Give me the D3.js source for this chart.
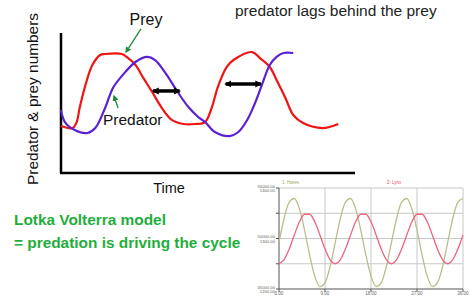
<!DOCTYPE html>
<html>
<head>
<meta charset="utf-8">
<script src="https://cdn.jsdelivr.net/npm/d3@7"></script>
<style>
  html, body { margin: 0; padding: 0; background: #fff; }
  svg { display: block; }
  text { font-family: "Liberation Sans", Arial, sans-serif; }
</style>
</head>
<body>
<div id="vis"></div>
<script>
// sketch chart: time in arbitrary units, numbers 0-100
const preyTime = [0, 1.2, 1.6, 1.9, 2.5, 3.2, 4.0, 4.5, 6.2, 6.7, 7.6, 8.4, 9.3, 10.3, 11.3, 12.5, 13.7, 14.7, 15.4, 16.0, 16.9, 17.6, 19.5, 20.3, 21.3, 22.1, 22.9, 23.7, 24.7, 26.7, 28.3];
const preyNum  = [33.6, 32.1, 36.4, 46.4, 62.9, 77.1, 84.3, 85.0, 85.0, 82.9, 77.1, 67.9, 57.9, 46.4, 37.9, 35.0, 35.0, 36.4, 47.1, 61.4, 75.7, 80.7, 86.4, 82.1, 75.7, 65.0, 53.6, 41.4, 35.7, 32.1, 35.0];
const predTime = [0, 0.4, 1.4, 2.7, 3.5, 4.5, 5.3, 6.3, 7.6, 8.8, 9.6, 10.6, 11.9, 13.0, 14.0, 14.7, 15.7, 17.2, 18.1, 19.0, 19.8, 20.5, 21.3, 22.0, 22.7, 23.7];
const predNum  = [45.0, 36.4, 30.7, 28.6, 32.1, 46.4, 60.7, 70.0, 79.3, 82.9, 80.7, 72.1, 57.9, 47.1, 40.0, 36.4, 29.3, 26.4, 29.3, 37.9, 50.0, 62.9, 77.1, 82.9, 85.7, 85.7];
// lag arrows [from, to, level]
const lagArrows = [[9.4, 12.1, 58.6], [16.8, 20.4, 63.6]];

// inset model output (Hares / Lynx)
const modelTime = d3.range(0, 37);
const hares = [49600, 51980, 53600, 53960, 52930, 50840, 48360, 46270, 45240, 45600, 47220,
               49600, 51970, 53600, 53960, 52930, 50840, 48360, 46270, 45240, 45600, 47220,
               49600, 51980, 53600, 53960, 52930, 50840, 48360, 46270, 45240, 45600, 47220,
               49600, 51980, 53600, 53960];
const lynx = [1250, 1258, 1279, 1307, 1333, 1348, 1348, 1333, 1307, 1279, 1258,
              1250, 1258, 1279, 1307, 1333, 1348, 1348, 1333, 1307, 1279, 1258,
              1250, 1258, 1279, 1307, 1333, 1348, 1348, 1333, 1307, 1279, 1258,
              1250, 1258, 1279, 1307];
const timeTicks = [0, 9, 18, 27, 36];
const hareTicks = [45000, 47500, 50000, 52500, 55000];
const hareLabels = {45000: "45000.00", 50000: "50000.00", 55000: "55000.00"};
const lynxLabels = {45000: "1200.00", 50000: "1300.00", 55000: "1400.00"};

const width = 474, height = 305;

const svg = d3.select("#vis").append("svg")
  .attr("width", width)
  .attr("height", height);

const defs = svg.append("defs");
function marker(id, color, w, h) {
  defs.append("marker")
    .attr("id", id)
    .attr("viewBox", "0 0 10 10")
    .attr("refX", 8).attr("refY", 5)
    .attr("markerUnits", "userSpaceOnUse")
    .attr("markerWidth", w).attr("markerHeight", h)
    .attr("orient", "auto-start-reverse")
    .append("path")
    .attr("d", "M0,0 L10,5 L0,10 z")
    .attr("fill", color);
}
marker("blk", "#000", 7, 9);
marker("grn", "#1e8a35", 6, 6);

//SCALES (sketch)
const x = d3.scaleLinear().domain([0, 30]).range([61, 355]);
const y = d3.scaleLinear().domain([0, 100]).range([173, 33]);

const line = d3.line()
  .x(d => x(d[0]))
  .y(d => y(d[1]))
  .curve(d3.curveCatmullRom.alpha(0.5));

// axes
svg.append("line")
  .attr("x1", x(0)).attr("x2", x(0))
  .attr("y1", y(100)).attr("y2", y(0))
  .attr("stroke", "#000").attr("stroke-width", 2.5);
svg.append("line")
  .attr("x1", x(0) - 1).attr("x2", x(30))
  .attr("y1", y(0)).attr("y2", y(0))
  .attr("stroke", "#000").attr("stroke-width", 2.5);

svg.append("path")
  .datum(preyTime.map((t, i) => [t, preyNum[i]]))
  .attr("d", line)
  .attr("fill", "none")
  .attr("stroke", "#f01414")
  .attr("stroke-width", 2.2);

svg.append("path")
  .datum(predTime.map((t, i) => [t, predNum[i]]))
  .attr("d", line)
  .attr("fill", "none")
  .attr("stroke", "#5a22d2")
  .attr("stroke-width", 2.2);

svg.selectAll(".lag")
  .data(lagArrows)
  .enter().append("line")
  .attr("class", "lag")
  .attr("x1", d => x(d[0])).attr("x2", d => x(d[1]))
  .attr("y1", d => y(d[2])).attr("y2", d => y(d[2]))
  .attr("stroke", "#000").attr("stroke-width", 3.5)
  .attr("marker-start", "url(#blk)")
  .attr("marker-end", "url(#blk)");

// pointer arrows
svg.append("line")
  .attr("x1", x(8.16)).attr("y1", y(102.9))
  .attr("x2", x(6.63)).attr("y2", y(86.4))
  .attr("stroke", "#1e8a35").attr("stroke-width", 1.3)
  .attr("marker-end", "url(#grn)");
svg.append("line")
  .attr("x1", x(5.82)).attr("y1", y(46.4))
  .attr("x2", x(5.41)).attr("y2", y(55))
  .attr("stroke", "#1e8a35").attr("stroke-width", 1.3)
  .attr("marker-end", "url(#grn)");

svg.append("text")
  .attr("x", 146).attr("y", 25)
  .attr("text-anchor", "middle")
  .attr("font-size", 16).attr("fill", "#111")
  .text("Prey");
svg.append("text")
  .attr("x", 103).attr("y", 125)
  .attr("font-size", 15.5).attr("fill", "#111")
  .text("Predator");
svg.append("text")
  .attr("x", 169).attr("y", 193)
  .attr("text-anchor", "middle")
  .attr("font-size", 14.5).attr("fill", "#111")
  .text("Time");
svg.append("text")
  .attr("transform", "translate(38,99) rotate(-90)")
  .attr("text-anchor", "middle")
  .attr("font-size", 15.4).attr("fill", "#111")
  .text("Predator & prey numbers");

svg.append("text")
  .attr("x", 235).attr("y", 16)
  .attr("font-size", 15.5).attr("fill", "#222")
  .text("predator lags behind the prey");

svg.append("text")
  .attr("x", 14).attr("y", 225)
  .attr("font-size", 15.4).attr("font-weight", "bold").attr("fill", "#1fae3c")
  .text("Lotka Volterra model");
svg.append("text")
  .attr("x", 14).attr("y", 248)
  .attr("font-size", 15.4).attr("font-weight", "bold").attr("fill", "#1fae3c")
  .text("= predation is driving the cycle");

//INSET
const ix = d3.scaleLinear().domain([0, 36]).range([279, 463]);
const iyH = d3.scaleLinear().domain([45000, 55000]).range([289, 188]);
const iyL = d3.scaleLinear().domain([1200, 1400]).range([289, 188]);

const inset = svg.append("g");

inset.selectAll(".vg")
  .data(timeTicks.slice(1))
  .enter().append("line")
  .attr("x1", d => ix(d)).attr("x2", d => ix(d))
  .attr("y1", iyH(55000)).attr("y2", iyH(45000))
  .attr("stroke", "#c8c8c8").attr("stroke-width", 1);
inset.selectAll(".hg")
  .data(hareTicks.slice(1))
  .enter().append("line")
  .attr("x1", ix(0)).attr("x2", ix(36))
  .attr("y1", d => iyH(d)).attr("y2", d => iyH(d))
  .attr("stroke", "#c8c8c8").attr("stroke-width", 1);

inset.append("line")
  .attr("x1", ix(0)).attr("x2", ix(0))
  .attr("y1", iyH(55000)).attr("y2", iyH(45000))
  .attr("stroke", "#555").attr("stroke-width", 1);
inset.append("line")
  .attr("x1", ix(0)).attr("x2", ix(36))
  .attr("y1", iyH(45000)).attr("y2", iyH(45000))
  .attr("stroke", "#555").attr("stroke-width", 1);
inset.selectAll(".lt")
  .data(hareTicks)
  .enter().append("line")
  .attr("x1", ix(0) - 3).attr("x2", ix(0))
  .attr("y1", d => iyH(d)).attr("y2", d => iyH(d))
  .attr("stroke", "#555");
inset.selectAll(".bt")
  .data(timeTicks)
  .enter().append("line")
  .attr("x1", d => ix(d)).attr("x2", d => ix(d))
  .attr("y1", iyH(45000)).attr("y2", iyH(45000) + 3)
  .attr("stroke", "#555");

inset.selectAll(".bl")
  .data(timeTicks)
  .enter().append("text")
  .attr("x", d => ix(d)).attr("y", 295)
  .attr("text-anchor", "middle")
  .attr("font-size", 4.5).attr("fill", "#666")
  .text(d => d3.format(".2f")(d));

const lab = Object.keys(hareLabels).map(Number);
inset.selectAll(".hl")
  .data(lab)
  .enter().append("text")
  .attr("x", 275).attr("y", d => iyH(d) - 0.5)
  .attr("text-anchor", "end")
  .attr("font-size", 4.2).attr("fill", "#666")
  .text(d => hareLabels[d]);
inset.selectAll(".ll")
  .data(lab)
  .enter().append("text")
  .attr("x", 275).attr("y", d => iyH(d) + 4)
  .attr("text-anchor", "end")
  .attr("font-size", 4.2).attr("fill", "#666")
  .text(d => lynxLabels[d]);

inset.append("text")
  .attr("x", 282).attr("y", 184)
  .attr("font-size", 4.5).attr("fill", "#a6a66a")
  .text("1: Hares");
inset.append("text")
  .attr("x", 387).attr("y", 184)
  .attr("font-size", 4.5).attr("fill", "#e0506a")
  .text("2: Lynx");

const hLine = d3.line()
  .x((d, i) => ix(modelTime[i]))
  .y(d => iyH(d))
  .curve(d3.curveMonotoneX);
const lLine = d3.line()
  .x((d, i) => ix(modelTime[i]))
  .y(d => iyL(d))
  .curve(d3.curveMonotoneX);

inset.append("path")
  .datum(hares)
  .attr("d", hLine)
  .attr("fill", "none")
  .attr("stroke", "#bcbc8c")
  .attr("stroke-width", 1.3);
inset.append("path")
  .datum(lynx)
  .attr("d", lLine)
  .attr("fill", "none")
  .attr("stroke", "#ea6682")
  .attr("stroke-width", 1.3);
</script>
</body>
</html>
